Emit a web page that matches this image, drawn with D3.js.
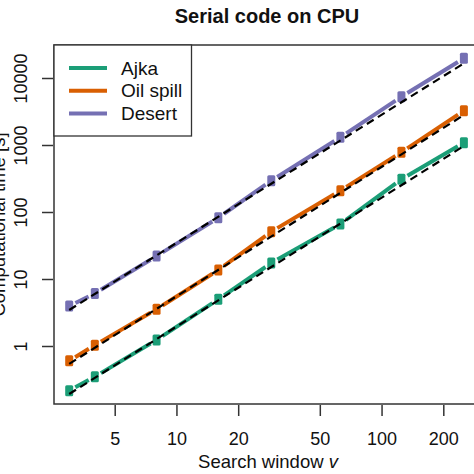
<!DOCTYPE html>
<html>
<head>
<meta charset="utf-8">
<script src="https://cdn.jsdelivr.net/npm/d3@7"></script>
<style>
  body { margin: 0; background: #fff; }
  svg { display: block; font-family: "Liberation Sans", Arial, sans-serif; }
</style>
</head>
<body>
<div id="vis1" style="width:474px;height:474px;"></div>
<script>
/*
Data
*/

const seriesNames = ["Ajka", "Oil spill", "Desert"];
const seriesColors = ["#1b9e77", "#d95f02", "#7570b3"];

// search window sizes
const windowSizes = [3, 4, 8, 16, 29, 63, 125, 252];

// computational time [s]
const ajkaTimes = [0.215, 0.348, 1.23, 4.98, 17.3, 66.2, 308, 1082];
const oilTimes = [0.60, 1.03, 3.53, 13.6, 50.8, 208, 778, 3250];
const desertTimes = [3.95, 6.1, 22, 82, 293, 1303, 5260, 19700];

// fitted power law, value at first and last window size
const ajkaFit = [0.192, 966];
const oilFit = [0.54, 2805];
const desertFit = [3.45, 16560];

const xTicks = [5, 10, 20, 50, 100, 200];
const yTicks = [1, 10, 100, 1000, 10000];

/*
Size constants
*/

const WIDTH = 474;
const HEIGHT = 474;
const box = {left: 54, top: 45, right: 480, bottom: 404};

/*
Scales
*/

const x = d3.scaleLog().domain([5, 200]).range([114.7, 443.3]);
const y = d3.scaleLog().domain([1, 10000]).range([346, 78]);

const svg = d3.select("#vis1")
              .append("svg")
              .attr("width", WIDTH)
              .attr("height", HEIGHT);

// plot box
svg.append("rect")
   .attr("x", box.left)
   .attr("y", box.top)
   .attr("width", box.right - box.left)
   .attr("height", box.bottom - box.top)
   .attr("fill", "none")
   .attr("stroke", "#333")
   .attr("stroke-width", 1.5);

// x axis
const xAxis = svg.append("g")
                 .attr("transform", `translate(0, ${box.bottom + 1})`)
                 .call(d3.axisBottom(x).tickValues(xTicks).tickFormat(d3.format("d")).tickSize(11).tickPadding(16));
xAxis.select(".domain").remove();
xAxis.selectAll("line").attr("stroke", "#333").attr("stroke-width", 1.5);
xAxis.selectAll("text").attr("font-size", 18).attr("fill", "#111").attr("font-family", null);

// y axis with rotated labels
const yAxis = svg.append("g")
                 .attr("transform", `translate(${box.left - 1}, 0)`)
                 .call(d3.axisLeft(y).tickValues(yTicks).tickFormat(d3.format("d")).tickSize(11));
yAxis.select(".domain").remove();
yAxis.selectAll("line").attr("stroke", "#333").attr("stroke-width", 1.5);
yAxis.selectAll("text")
     .attr("font-size", 18)
     .attr("fill", "#111")
     .attr("font-family", null)
     .attr("x", null)
     .attr("dy", null)
     .attr("text-anchor", "middle")
     .attr("transform", "translate(-26, 0) rotate(-90)");

// titles
svg.append("text")
   .attr("x", 267)
   .attr("y", 23)
   .attr("text-anchor", "middle")
   .attr("font-size", 20)
   .attr("font-weight", "bold")
   .attr("fill", "#111")
   .text("Serial code on CPU");

const xLabel = svg.append("text")
   .attr("x", 268)
   .attr("y", 468)
   .attr("text-anchor", "middle")
   .attr("font-size", 18.5)
   .attr("fill", "#111");
xLabel.append("tspan").text("Search window ");
xLabel.append("tspan").attr("font-style", "italic").text("v");

svg.append("text")
   .attr("transform", `translate(5, ${(box.top + box.bottom) / 2}) rotate(-90)`)
   .attr("text-anchor", "middle")
   .attr("font-size", 18.5)
   .attr("fill", "#111")
   .text("Computational time [s]");

/*
Series
*/

const series = [
    {name: seriesNames[0], color: seriesColors[0], values: ajkaTimes, fit: ajkaFit},
    {name: seriesNames[1], color: seriesColors[1], values: oilTimes, fit: oilFit},
    {name: seriesNames[2], color: seriesColors[2], values: desertTimes, fit: desertFit}
];

const GAP = 7;

series.forEach(s => {
    const pts = windowSizes.map((w, i) => [x(w), y(s.values[i])]);

    // line segments with gaps around the points
    const segs = d3.pairs(pts).map(([a, b]) => {
        const dx = b[0] - a[0], dy = b[1] - a[1];
        const len = Math.hypot(dx, dy);
        const ux = dx / len, uy = dy / len;
        return [a[0] + ux * GAP, a[1] + uy * GAP, b[0] - ux * GAP, b[1] - uy * GAP];
    });

    svg.append("g")
       .selectAll("line")
       .data(segs)
       .enter()
       .append("line")
       .attr("x1", d => d[0])
       .attr("y1", d => d[1])
       .attr("x2", d => d[2])
       .attr("y2", d => d[3])
       .attr("stroke", s.color)
       .attr("stroke-width", 4);

    svg.append("g")
       .selectAll("rect")
       .data(pts)
       .enter()
       .append("rect")
       .attr("x", d => d[0] - 4)
       .attr("y", d => d[1] - 5.5)
       .attr("width", 8)
       .attr("height", 11)
       .attr("rx", 1.5)
       .attr("fill", s.color);
});

// fitted lines on top
series.forEach(s => {
    const first = windowSizes[0];
    const last = windowSizes[windowSizes.length - 1];
    svg.append("line")
       .attr("x1", x(first))
       .attr("y1", y(s.fit[0]))
       .attr("x2", x(last))
       .attr("y2", y(s.fit[1]))
       .attr("stroke", "#000")
       .attr("stroke-width", 2.2)
       .attr("stroke-dasharray", "8,5");
});

/*
Legend
*/

const legend = svg.append("g");
legend.append("rect")
      .attr("x", box.left)
      .attr("y", box.top)
      .attr("width", 137.5)
      .attr("height", 91)
      .attr("fill", "#fff")
      .attr("stroke", "#333")
      .attr("stroke-width", 1.3);

const items = legend.selectAll("g.item")
                    .data(series)
                    .enter()
                    .append("g")
                    .attr("class", "item")
                    .attr("transform", (d, i) => `translate(0, ${68 + i * 22.7})`);

items.append("line")
     .attr("x1", 69)
     .attr("x2", 107)
     .attr("stroke", d => d.color)
     .attr("stroke-width", 4);

items.append("text")
     .attr("x", 121)
     .attr("y", 6.5)
     .attr("font-size", 19)
     .attr("fill", "#111")
     .text(d => d.name);
</script>
</body>
</html>
